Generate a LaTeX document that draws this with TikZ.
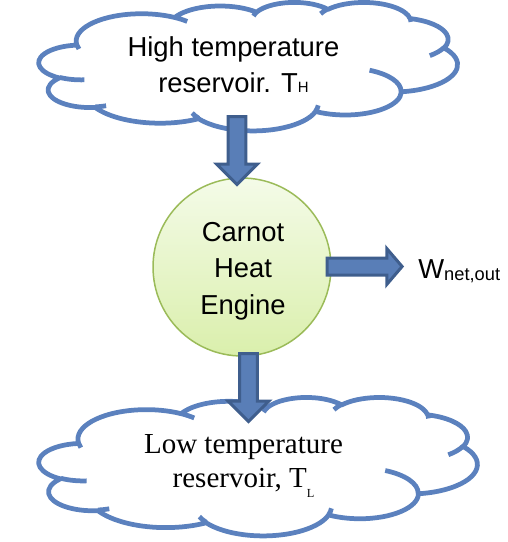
\documentclass[tikz,border=0pt]{standalone}
\usepackage{fontspec}
\setmainfont{Liberation Sans}
\newfontfamily\coldfont{Liberation Serif}
\usetikzlibrary{shapes.arrows}
\definecolor{cloudblue}{RGB}{91,129,190}
\definecolor{flowfill}{RGB}{89,126,183}
\definecolor{flowedge}{RGB}{63,94,141}
\definecolor{engineedge}{RGB}{155,187,89}
\definecolor{enginetop}{RGB}{244,251,232}
\definecolor{enginebottom}{RGB}{218,239,172}
\newcommand\puff[4]{arc[start angle={atan2(#1*sin(#3),#2*cos(#3))},delta angle={mod(atan2(#1*sin(#3+#4),#2*cos(#3+#4))-atan2(#1*sin(#3),#2*cos(#3))+720,360)},x radius=#1,y radius=#2]}
\newcommand\cloudoutline{(390,1437) \puff{675.3}{919}{-190.4875}{123.7805} \puff{533.3}{726.7}{-144.1024}{89.9452}
  \puff{436.5}{594.5}{-145.8079}{99.7230} \puff{485.7}{659.5}{-130.9861}{117.2417} \puff{533.3}{727.3}{-78.7089}{109.0269}
  \puff{677.5}{922}{-46.2673}{130.269} \puff{578.5}{786.7}{0.625}{114.0333} \puff{675.2}{921.5}{22.4516}{115.1726}
  \puff{772}{1054.3}{66.2426}{75.711} \puff{436}{591.8}{-274.9421}{146.7356} \puff{434.5}{594.5}{-246.8285}{152.5189} -- cycle
  (469.3,2617.7) \puff{434.5}{594.5}{86.742}{26.4295}
  (692.8,3489.9) \puff{436}{591.8}{73.6105}{11.4475}
  (1647.8,3909) \puff{675.2}{921.5}{137.6242}{14.0811}
  (2882.7,3475.1) \puff{675.2}{921.5}{6.4533}{15.9984}
  (3412.9,2295.4) \puff{578.5}{786.7}{-70.2924}{70.9174}
  (4179.8,1535.4) \puff{533.3}{727.3}{30.318}{27.7515}
  (3832.4,542.6) \puff{485.7}{659.5}{-13.7443}{14.8589}
  (2907.8,395.2) \puff{485.7}{659.5}{-149.1815}{18.1954}
  (2214.1,472) \puff{436.5}{594.5}{-163.4943}{17.6864}
  (1400,519.2) \puff{675.3}{919}{-66.707}{12.3194}
  (412.7,1578.9) \puff{675.3}{919}{157.6544}{11.8582}}

\begin{document}
\begin{tikzpicture}[x=0.02cm,y=-0.02cm]
            \useasboundingbox (0,0) rectangle (508,542);
            \tikzset{ReservoirLine/.style={draw=cloudblue,fill=white,line width=0.095cm,line join=round}};
            \tikzset{Flow/.style={single arrow,fill=flowfill,draw=flowedge,line width=0.06cm,inner sep=0.15cm,single arrow head extend=0.23cm,single arrow tip angle=90,minimum height=1.36cm}};
            \tikzset{Label/.style={align=center,inner sep=0pt,font=\fontsize{15.6}{20.7}\selectfont}};

            \begin{scope}[shift={(39,2)},x=0.00193981cm,y=-0.000597222cm]
              \path[ReservoirLine] \cloudoutline;
            \end{scope}
            \begin{scope}[shift={(39,397)},x=0.00203704cm,y=-0.000638889cm]
              \path[ReservoirLine] \cloudoutline;
            \end{scope}
            \node[circle,draw=engineedge,line width=0.03cm,top color=enginetop,bottom color=enginebottom,inner sep=0pt,minimum size=3.56cm] (engine) at (242,267) {};

            \node[Label] (hotlabel) at (233.5,65) {High temperature\\reservoir. T{\fontsize{8.5}{8.5}\selectfont H}};
            \node[Label] (enginelabel) at (243,271) {Carnot\\Heat\\Engine};
            \node[Label,font=\coldfont\fontsize{16.5}{19.3}\selectfont] (coldlabel) at (243.5,466) {Low temperature\\reservoir, T\raisebox{-6.2pt}{\fontsize{7}{7}\selectfont L}};
            \node[Label,anchor=base west] (work) at (418,278) {W\raisebox{-1.7pt}{\fontsize{10.4}{10.4}\selectfont net,out}};

            \node[Flow,rotate=-90] (qhot) at (237,146) {};
            \node[Flow,rotate=-90] (qcold) at (248.5,383) {};
            \node[Flow,inner sep=0.14cm,single arrow head extend=0.19cm,single arrow tip angle=99,minimum height=1.5cm] (wout) at (361,266.5) {};
\end{tikzpicture}
\end{document}
